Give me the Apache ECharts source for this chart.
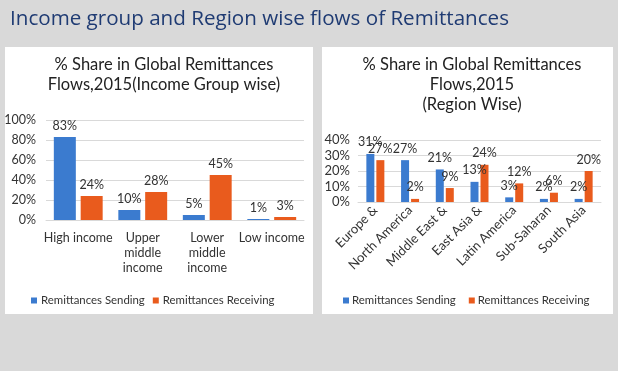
<!DOCTYPE html>
<html><head><meta charset="utf-8">
<script src="https://cdn.jsdelivr.net/npm/echarts@6/dist/echarts.min.js"></script>
<style>html,body{margin:0;padding:0;background:#d9d9d9;}#c{width:618px;height:371px;}</style>
</head><body><div id="c"></div>
<script>
const incomeCats = ["High income", "Upper\nmiddle\nincome", "Lower\nmiddle\nincome", "Low income"];
const incomeSending = [83, 10, 5, 1];
const incomeReceiving = [24, 28, 45, 3];
const regionCats = ["Europe &", "North America", "Middle East &", "East Asia &", "Latin America", "Sub-Saharan", "South Asia"];
const regionSending = [31, 27, 21, 13, 3, 2, 2];
const regionReceiving = [27, 2, 9, 24, 12, 6, 20];
const seriesNames = ["Remittances Sending", "Remittances Receiving"];

const BLUE = "#3b7bcf", ORANGE = "#e95b1d", TXT = "#333333", FONT = "Lato", FS = 12.5;
const chart = echarts.init(document.getElementById('c'), null, {renderer: 'canvas'});
const lbl = {show: true, position: 'top', distance: 5, formatter: '{c}%', color: TXT, fontSize: FS, fontFamily: FONT};
function bar(name, data, xi, color, bw, gap, cgap) {
  return {type: 'bar', name, data, xAxisIndex: xi, yAxisIndex: xi, barWidth: bw, barGap: gap, barCategoryGap: cgap,
    itemStyle: {color}, label: lbl, animation: false};
}
chart.setOption({
  animation: false,
  textStyle: {fontFamily: FONT},
  graphic: [
    {type: 'rect', shape: {x: 5, y: 47, width: 308, height: 267}, style: {fill: '#fff'}, z: -10},
    {type: 'rect', shape: {x: 322, y: 47, width: 291, height: 267}, style: {fill: '#fff'}, z: -10},
    {type: 'text', left: 10, top: 9, style: {text: 'Income group and Region wise flows of Remittances', fill: '#1f3b73', font: '20.6px "Open Sans"'}}
  ],
  title: [
    {text: '% Share in Global Remittances\nFlows,2015(Income Group wise)', left: 159, top: 50, textAlign: 'center',
      textStyle: {fontFamily: FONT, fontSize: 16.5, fontWeight: 'normal', color: '#222', lineHeight: 20}},
    {text: '% Share in Global Remittances\nFlows,2015\n(Region Wise)', left: 467, top: 50, textAlign: 'center',
      textStyle: {fontFamily: FONT, fontSize: 16.5, fontWeight: 'normal', color: '#222', lineHeight: 20}}
  ],
  legend: [
    {data: seriesNames, left: 26, top: 290, width: 290, icon: 'rect', itemWidth: 6, itemHeight: 6, itemGap: 8,
      textStyle: {fontSize: 11.4, color: TXT, fontFamily: FONT, padding: [0, 0, 0, -1]}},
    {data: seriesNames, left: 338, top: 290, width: 280, icon: 'rect', itemWidth: 6, itemHeight: 6, itemGap: 13,
      textStyle: {fontSize: 11.4, color: TXT, fontFamily: FONT, padding: [0, 0, 0, -2]}}
  ],
  grid: [
    {left: 46, top: 120, width: 258, height: 100},
    {left: 358, top: 140, width: 243, height: 62}
  ],
  xAxis: [
    {type: 'category', gridIndex: 0, data: incomeCats, axisTick: {show: false},
      axisLine: {lineStyle: {color: '#d9d9d9'}},
      axisLabel: {color: TXT, fontSize: FS, fontFamily: FONT, margin: 10, lineHeight: 15, interval: 0}},
    {type: 'category', gridIndex: 1, data: regionCats, axisTick: {show: false},
      axisLine: {lineStyle: {color: '#d9d9d9'}},
      axisLabel: {color: TXT, fontSize: 13, fontFamily: FONT, margin: 6, rotate: 45, interval: 0}}
  ],
  yAxis: [
    {type: 'value', gridIndex: 0, min: 0, max: 100, interval: 20,
      axisLabel: {formatter: '{value}%', color: TXT, fontSize: FS, fontFamily: FONT, margin: 10},
      splitLine: {lineStyle: {color: '#d9d9d9'}}},
    {type: 'value', gridIndex: 1, min: 0, max: 40, interval: 10,
      axisLabel: {formatter: '{value}%', color: TXT, fontSize: 13, fontFamily: FONT, margin: 8},
      splitLine: {lineStyle: {color: '#d9d9d9'}}}
  ],
  series: [
    bar(seriesNames[0], incomeSending, 0, BLUE, 22, '22%', '24%'),
    bar(seriesNames[1], incomeReceiving, 0, ORANGE, 22, '22%', '24%'),
    bar(seriesNames[0], regionSending, 1, BLUE, 8, '25%', '45%'),
    bar(seriesNames[1], regionReceiving, 1, ORANGE, 8, '25%', '45%')
  ]
});
</script></body></html>
